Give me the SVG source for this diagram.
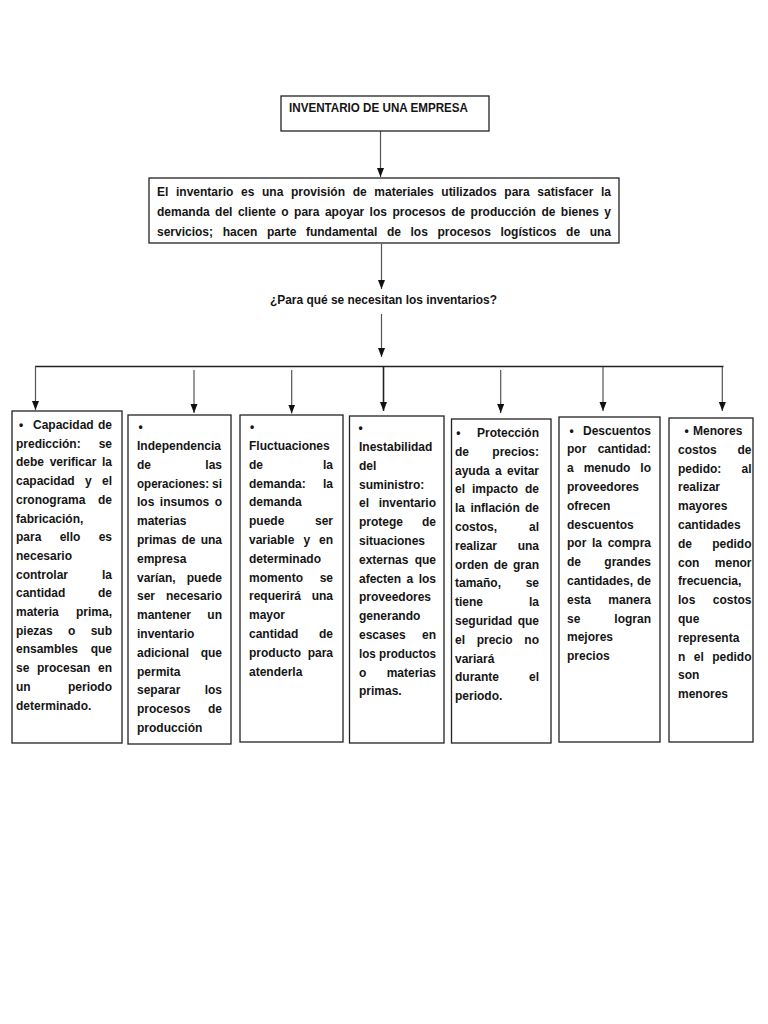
<svg xmlns="http://www.w3.org/2000/svg" width="768" height="1024" viewBox="0 0 768 1024">
<style>
text{font-family:"Liberation Sans",Arial,sans-serif;font-size:12px;font-weight:bold;fill:#151515}
.r{text-anchor:end}
.c{text-anchor:middle}
.box{fill:#fff;stroke:#222;stroke-width:1.3}
.ln{stroke:#555;stroke-width:1.2;fill:none}
.hl{stroke:#222;stroke-width:1.6;fill:none}
</style>
<defs>
<marker id="ah" markerUnits="userSpaceOnUse" markerWidth="10" markerHeight="8" refX="9" refY="3.5" orient="auto">
<path d="M0,0 L9,3.5 L0,7 z" fill="#111"/>
</marker>
</defs>
<rect width="768" height="1024" fill="#fff"/>

<g id="connectors">
<line class="ln" x1="380.5" y1="131" x2="380.5" y2="177" marker-end="url(#ah)"/>
<line class="ln" x1="381.5" y1="244" x2="381.5" y2="289" marker-end="url(#ah)"/>
<line class="ln" x1="381.5" y1="314" x2="381.5" y2="357" marker-end="url(#ah)"/>
<line class="hl" x1="35" y1="366.5" x2="723.5" y2="366.5"/>
<line class="ln" x1="35.5" y1="366.5" x2="35.5" y2="410" marker-end="url(#ah)"/>
<line class="ln" x1="194" y1="370" x2="194" y2="413" marker-end="url(#ah)"/>
<line class="ln" x1="291.7" y1="370" x2="291.7" y2="413.5" marker-end="url(#ah)"/>
<line class="hl" x1="383.5" y1="366.5" x2="383.5" y2="411" marker-end="url(#ah)"/>
<line class="ln" x1="500.7" y1="370" x2="500.7" y2="413" marker-end="url(#ah)"/>
<line class="ln" x1="603" y1="367" x2="603" y2="411" marker-end="url(#ah)"/>
<line class="ln" x1="722.3" y1="367" x2="722.3" y2="411" marker-end="url(#ah)"/>
</g>

<g id="n-title">
<rect class="box" x="281" y="96" width="208" height="35"/>
<text x="289" y="112" textLength="179" lengthAdjust="spacingAndGlyphs">INVENTARIO DE UNA EMPRESA</text>
</g>

<g id="n-desc">
<rect class="box" x="149" y="178" width="470" height="65"/>
<text x="157" y="196">El</text><text x="176" y="196">inventario</text><text x="241" y="196">es</text><text x="262" y="196">una</text><text x="291" y="196">provisión</text><text x="352.7" y="196">de</text><text x="374.3" y="196">materiales</text><text x="441.3" y="196">utilizados</text><text x="504.3" y="196">para</text><text x="537.3" y="196">satisfacer</text><text class="r" x="611" y="196">la</text>
<text x="157" y="216">demanda</text><text x="215.1" y="216">del</text><text x="237.9" y="216">cliente</text><text x="281.3" y="216">o</text><text x="294.1" y="216">para</text><text x="324.9" y="216">apoyar</text><text x="369.6" y="216">los</text><text x="392.4" y="216">procesos</text><text x="451.2" y="216">de</text><text x="470.6" y="216">producción</text><text x="541.4" y="216">de</text><text x="560.8" y="216">bienes</text><text class="r" x="611" y="216">y</text>
<text x="157" y="236">servicios;</text><text x="222.7" y="236">hacen</text><text x="267" y="236">parte</text><text x="305.9" y="236">fundamental</text><text x="386.9" y="236">de</text><text x="410.5" y="236">los</text><text x="437.5" y="236">procesos</text><text x="500.4" y="236">logísticos</text><text x="566.1" y="236">de</text><text class="r" x="611" y="236">una</text>
</g>

<g id="n-question">
<text x="270" y="304" textLength="227" lengthAdjust="spacingAndGlyphs">¿Para qué se necesitan los inventarios?</text>
</g>

<g id="n-box1">
<rect class="box" x="12" y="411" width="110" height="332"/>
<text class="c" x="21" y="429">•</text><text x="33" y="429">Capacidad</text><text class="r" x="112" y="429">de</text>
<text x="16" y="447.7">predicción:</text><text class="r" x="112" y="447.7">se</text>
<text x="16" y="466.4">debe</text><text x="49.7" y="466.4">verificar</text><text class="r" x="112" y="466.4">la</text>
<text x="16" y="485.1">capacidad</text><text x="85" y="485.1">y</text><text class="r" x="112" y="485.1">el</text>
<text x="16" y="503.8">cronograma</text><text class="r" x="112" y="503.8">de</text>
<text x="16" y="522.5">fabricación,</text>
<text x="16" y="541.2">para</text><text x="59.7" y="541.2">ello</text><text class="r" x="112" y="541.2">es</text>
<text x="16" y="559.9">necesario</text>
<text x="16" y="578.6">controlar</text><text class="r" x="112" y="578.6">la</text>
<text x="16" y="597.3">cantidad</text><text class="r" x="112" y="597.3">de</text>
<text x="16" y="616">materia</text><text class="r" x="112" y="616">prima,</text>
<text x="16" y="634.7">piezas</text><text x="68" y="634.7">o</text><text class="r" x="112" y="634.7">sub</text>
<text x="16" y="653.4">ensambles</text><text class="r" x="112" y="653.4">que</text>
<text x="16" y="672.1">se</text><text x="37" y="672.1">procesan</text><text class="r" x="112" y="672.1">en</text>
<text x="16" y="690.8">un</text><text class="r" x="112" y="690.8">periodo</text>
<text x="16" y="709.5">determinado.</text>
</g>

<g id="n-box2">
<rect class="box" x="128" y="415" width="103" height="329"/>
<text class="c" x="140.7" y="431">•</text>
<text x="137" y="450">Independencia</text>
<text x="137" y="468.8">de</text><text class="r" x="222" y="468.8">las</text>
<text x="137" y="487.6" textLength="72" lengthAdjust="spacingAndGlyphs">operaciones:</text><text class="r" x="222" y="487.6">si</text>
<text x="137" y="506.4">los</text><text x="159.8" y="506.4">insumos</text><text class="r" x="222" y="506.4">o</text>
<text x="137" y="525.2">materias</text>
<text x="137" y="544">primas</text><text x="181.5" y="544">de</text><text class="r" x="222" y="544">una</text>
<text x="137" y="562.8">empresa</text>
<text x="137" y="581.6">varían,</text><text class="r" x="222" y="581.6">puede</text>
<text x="137" y="600.4">ser</text><text class="r" x="222" y="600.4">necesario</text>
<text x="137" y="619.2">mantener</text><text class="r" x="222" y="619.2">un</text>
<text x="137" y="638">inventario</text>
<text x="137" y="656.8">adicional</text><text class="r" x="222" y="656.8">que</text>
<text x="137" y="675.6">permita</text>
<text x="137" y="694.4">separar</text><text class="r" x="222" y="694.4">los</text>
<text x="137" y="713.2">procesos</text><text class="r" x="222" y="713.2">de</text>
<text x="137" y="732">producción</text>
</g>

<g id="n-box3">
<rect class="box" x="240" y="415" width="103" height="327"/>
<text class="c" x="252" y="431">•</text>
<text x="249" y="450">Fluctuaciones</text>
<text x="249" y="468.8">de</text><text class="r" x="333" y="468.8">la</text>
<text x="249" y="487.6">demanda:</text><text class="r" x="333" y="487.6">la</text>
<text x="249" y="506.4">demanda</text>
<text x="249" y="525.2">puede</text><text class="r" x="333" y="525.2">ser</text>
<text x="249" y="544">variable</text><text x="303.4" y="544">y</text><text class="r" x="333" y="544">en</text>
<text x="249" y="562.8">determinado</text>
<text x="249" y="581.6">momento</text><text class="r" x="333" y="581.6">se</text>
<text x="249" y="600.4">requerirá</text><text class="r" x="333" y="600.4">una</text>
<text x="249" y="619.2">mayor</text>
<text x="249" y="638">cantidad</text><text class="r" x="333" y="638">de</text>
<text x="249" y="656.8">producto</text><text class="r" x="333" y="656.8">para</text>
<text x="249" y="675.6">atenderla</text>
</g>

<g id="n-box4">
<rect class="box" x="349.5" y="416" width="94.5" height="327"/>
<text class="c" x="360.7" y="432">•</text>
<text x="359" y="451">Inestabilidad</text>
<text x="359" y="469.8">del</text>
<text x="359" y="488.6">suministro:</text>
<text x="359" y="507.4">el</text><text class="r" x="436" y="507.4">inventario</text>
<text x="359" y="526.2">protege</text><text class="r" x="436" y="526.2">de</text>
<text x="359" y="545">situaciones</text>
<text x="359" y="563.8">externas</text><text class="r" x="436" y="563.8">que</text>
<text x="359" y="582.6">afecten</text><text x="406.5" y="582.6">a</text><text class="r" x="436" y="582.6">los</text>
<text x="359" y="601.4">proveedores</text>
<text x="359" y="620.2">generando</text>
<text x="359" y="639">escases</text><text class="r" x="436" y="639">en</text>
<text x="359" y="657.8" textLength="77" lengthAdjust="spacingAndGlyphs">los productos</text>
<text x="359" y="676.6">o</text><text class="r" x="436" y="676.6">materias</text>
<text x="359" y="695.4">primas.</text>
</g>

<g id="n-box5">
<rect class="box" x="451.5" y="419" width="99.5" height="324"/>
<text class="c" x="458.3" y="437">•</text><text class="r" x="539" y="437">Protección</text>
<text x="455" y="455.8">de</text><text class="r" x="539" y="455.8">precios:</text>
<text x="455" y="474.6">ayuda</text><text x="495" y="474.6">a</text><text class="r" x="539" y="474.6">evitar</text>
<text x="455" y="493.4">el</text><text x="472" y="493.4">impacto</text><text class="r" x="539" y="493.4">de</text>
<text x="455" y="512.2">la</text><text x="470.4" y="512.2">inflación</text><text class="r" x="539" y="512.2">de</text>
<text x="455" y="531">costos,</text><text class="r" x="539" y="531">al</text>
<text x="455" y="549.8">realizar</text><text class="r" x="539" y="549.8">una</text>
<text x="455" y="568.6">orden</text><text x="493.7" y="568.6">de</text><text class="r" x="539" y="568.6">gran</text>
<text x="455" y="587.4">tamaño,</text><text class="r" x="539" y="587.4">se</text>
<text x="455" y="606.2">tiene</text><text class="r" x="539" y="606.2">la</text>
<text x="455" y="625">seguridad</text><text class="r" x="539" y="625">que</text>
<text x="455" y="643.8">el</text><text x="476.7" y="643.8">precio</text><text class="r" x="539" y="643.8">no</text>
<text x="455" y="662.6">variará</text>
<text x="455" y="681.4">durante</text><text class="r" x="539" y="681.4">el</text>
<text x="455" y="700.2">periodo.</text>
</g>

<g id="n-box6">
<rect class="box" x="559" y="417" width="101" height="325"/>
<text class="c" x="571.7" y="434.5">•</text><text class="r" x="651" y="434.5">Descuentos</text>
<text x="567" y="453.3">por</text><text class="r" x="651" y="453.3">cantidad:</text>
<text x="567" y="472.1">a</text><text x="583.7" y="472.1">menudo</text><text class="r" x="651" y="472.1">lo</text>
<text x="567" y="490.9">proveedores</text>
<text x="567" y="509.7">ofrecen</text>
<text x="567" y="528.5">descuentos</text>
<text x="567" y="547.3">por</text><text x="592" y="547.3">la</text><text class="r" x="651" y="547.3">compra</text>
<text x="567" y="566.1">de</text><text class="r" x="651" y="566.1">grandes</text>
<text x="567" y="584.9">cantidades,</text><text class="r" x="651" y="584.9">de</text>
<text x="567" y="603.7">esta</text><text class="r" x="651" y="603.7">manera</text>
<text x="567" y="622.5">se</text><text class="r" x="651" y="622.5">logran</text>
<text x="567" y="641.3">mejores</text>
<text x="567" y="660.1">precios</text>
</g>

<g id="n-box7">
<rect class="box" x="669" y="418" width="84" height="324"/>
<text class="c" x="686.7" y="435">•</text><text x="693" y="435">Menores</text>
<text x="678" y="453.8">costos</text><text class="r" x="751.5" y="453.8">de</text>
<text x="678" y="472.6">pedido:</text><text class="r" x="751.5" y="472.6">al</text>
<text x="678" y="491.4">realizar</text>
<text x="678" y="510.2">mayores</text>
<text x="678" y="529">cantidades</text>
<text x="678" y="547.8">de</text><text class="r" x="751.5" y="547.8">pedido</text>
<text x="678" y="566.6">con</text><text class="r" x="751.5" y="566.6">menor</text>
<text x="678" y="585.4">frecuencia,</text>
<text x="678" y="604.2">los</text><text class="r" x="751.5" y="604.2">costos</text>
<text x="678" y="623">que</text>
<text x="678" y="641.8">representa</text>
<text x="678" y="660.6">n</text><text x="693.8" y="660.6">el</text><text class="r" x="751.5" y="660.6">pedido</text>
<text x="678" y="679.4">son</text>
<text x="678" y="698.2">menores</text>
</g>
</svg>
